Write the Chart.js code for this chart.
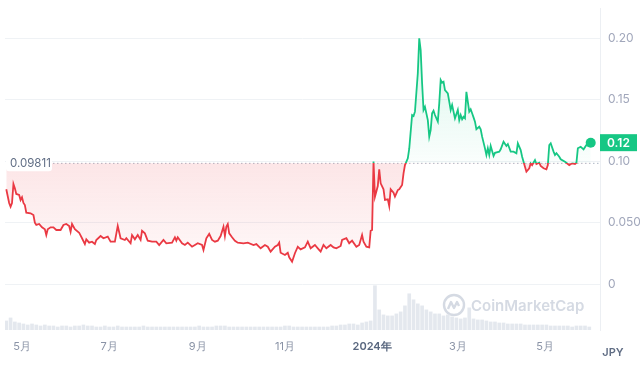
<!DOCTYPE html>
<html>
<head>
<meta charset="utf-8">
<script src="https://cdn.jsdelivr.net/npm/chart.js@4/dist/chart.umd.min.js"></script>
<style>
  html, body { margin:0; padding:0; background:#fff; }
  canvas { display:block; }
</style>
</head>
<body>
<canvas id="priceChart" width="640" height="366"></canvas>
<script>
// ----- data (days counted from 2023-05-01) -----
const monthTicks = [0, 61, 123, 184, 245, 305, 366];
const monthLabels = ['5月', '7月', '9月', '11月', '2024年', '3月', '5月'];
const priceTicks = [0, 0.05, 0.10, 0.15, 0.20];
const priceTickLabels = ['0', '0.050', '0.10', '0.15', '0.20'];
const baselinePrice = 0.09811;
const lastPriceLabel = '0.12';
const currency = 'JPY';

const priceDays = [
  -11, -9, -8, -7, -6, -5, -4, -2, -1, 0, 1, 2, 3, 6, 8, 9, 10, 12, 14, 16,
  17, 18, 20, 22, 24, 27, 29, 31, 33, 34, 35, 37, 40, 42, 44, 45, 47, 49, 51, 52,
  55, 57, 60, 62, 65, 67, 69, 72, 73, 76, 77, 79, 81, 83, 84, 86, 88, 91, 94, 96,
  99, 101, 105, 107, 108, 109, 112, 114, 116, 119, 121, 123, 126, 127, 129, 131, 133, 135, 137, 139,
  141, 142, 143, 144, 145, 147, 149, 151, 155, 158, 162, 164, 167, 170, 172, 174, 177, 179, 180, 181,
  184, 186, 187, 189, 191, 193, 195, 198, 200, 202, 205, 207, 209, 211, 213, 216, 218, 220, 223, 224,
  227, 229, 231, 234, 236, 238, 239, 241, 243, 244, 245, 246, 247, 249, 250, 251, 253, 254, 256, 257,
  258, 260, 261, 263, 264, 266, 267, 268, 270, 271, 273, 274, 275, 277, 278, 279, 280, 281, 282, 284,
  285, 286, 287, 288, 289, 291, 292, 293, 294, 295, 296, 298, 299, 300, 301, 302, 303, 305, 306, 307,
  308, 309, 310, 311, 313, 314, 315, 316, 317, 318, 320, 321, 322, 324, 325, 326, 327, 328, 330, 331,
  334, 335, 337, 339, 340, 342, 344, 346, 347, 349, 350, 352, 353, 355, 356, 357, 359, 360, 362, 363,
  365, 367, 368, 369, 370, 372, 373, 374, 376, 377, 380, 382, 383, 385, 387, 388, 389, 391, 393, 395,
  398
];
const prices = [
  0.0770, 0.0659, 0.0628, 0.0659, 0.0813, 0.0778, 0.0732, 0.0724, 0.0683, 0.0705, 0.0659, 0.0642, 0.0580, 0.0575, 0.0561, 0.0498, 0.0480, 0.0488, 0.0461, 0.0445,
  0.0398, 0.0445, 0.0461, 0.0461, 0.0439, 0.0439, 0.0480, 0.0488, 0.0472, 0.0425, 0.0488, 0.0445, 0.0417, 0.0372, 0.0325, 0.0363, 0.0336, 0.0344, 0.0325, 0.0358,
  0.0390, 0.0372, 0.0385, 0.0344, 0.0344, 0.0472, 0.0372, 0.0358, 0.0372, 0.0331, 0.0398, 0.0363, 0.0398, 0.0358, 0.0433, 0.0412, 0.0352, 0.0344, 0.0344, 0.0317,
  0.0358, 0.0331, 0.0336, 0.0380, 0.0352, 0.0380, 0.0331, 0.0317, 0.0336, 0.0303, 0.0317, 0.0331, 0.0317, 0.0276, 0.0372, 0.0407, 0.0358, 0.0344, 0.0352, 0.0390,
  0.0466, 0.0390, 0.0466, 0.0488, 0.0412, 0.0380, 0.0352, 0.0336, 0.0331, 0.0336, 0.0317, 0.0325, 0.0290, 0.0317, 0.0303, 0.0263, 0.0303, 0.0317, 0.0336, 0.0254,
  0.0236, 0.0254, 0.0217, 0.0181, 0.0250, 0.0303, 0.0282, 0.0298, 0.0344, 0.0290, 0.0317, 0.0290, 0.0263, 0.0317, 0.0290, 0.0317, 0.0298, 0.0290, 0.0309, 0.0358,
  0.0372, 0.0331, 0.0352, 0.0303, 0.0317, 0.0398, 0.0344, 0.0303, 0.0298, 0.0433, 0.0439, 0.0995, 0.0710, 0.0797, 0.0933, 0.0819, 0.0770, 0.0683, 0.0689, 0.0634,
  0.0770, 0.0742, 0.0710, 0.0764, 0.0770, 0.0805, 0.0900, 0.0967, 0.1022, 0.1100, 0.1374, 0.1366, 0.1401, 0.1713, 0.1998, 0.1902, 0.1632, 0.1415, 0.1441, 0.1333,
  0.1198, 0.1252, 0.1388, 0.1409, 0.1374, 0.1320, 0.1469, 0.1659, 0.1637, 0.1645, 0.1577, 0.1550, 0.1482, 0.1415, 0.1455, 0.1401, 0.1347, 0.1415, 0.1333, 0.1374,
  0.1339, 0.1360, 0.1347, 0.1563, 0.1401, 0.1420, 0.1388, 0.1355, 0.1320, 0.1258, 0.1279, 0.1258, 0.1198, 0.1103, 0.1049, 0.1103, 0.1049, 0.1122, 0.1041, 0.1067,
  0.1076, 0.1095, 0.1157, 0.1122, 0.1138, 0.1076, 0.1076, 0.1063, 0.1144, 0.1089, 0.1035, 0.0954, 0.0913, 0.0941, 0.0981, 0.0967, 0.1008, 0.0976, 0.0986, 0.0959,
  0.0941, 0.0933, 0.0967, 0.1130, 0.1144, 0.1076, 0.1049, 0.1063, 0.1035, 0.1014, 0.0994, 0.0976, 0.0967, 0.0981, 0.0976, 0.0986, 0.1103, 0.1116, 0.1095, 0.1130,
  0.1149
];

// volume, one bar every 3 days starting 2023-04-20 (relative units)
const volumeStartDay = -11;
const volumeStep = 3;
const volumes = [
  9, 12, 8, 7, 6, 5, 6, 5, 4, 5,
  4, 4, 3, 4, 4, 3, 4, 4, 5, 4,
  4, 3, 3, 4, 3, 3, 4, 3, 3, 3,
  3, 3, 4, 3, 3, 3, 3, 3, 3, 3,
  3, 3, 3, 3, 3, 4, 3, 3, 3, 4,
  4, 4, 3, 3, 3, 3, 3, 3, 3, 3,
  3, 3, 3, 3, 3, 4, 4, 3, 3, 3,
  3, 3, 3, 3, 3, 3, 4, 4, 5, 5,
  6, 6, 5, 7, 8, 9, 44, 20, 15, 14,
  14, 16, 18, 24, 36, 30, 26, 24, 20, 18,
  16, 16, 14, 15, 13, 12, 11, 12, 22, 11,
  10, 10, 9, 8, 8, 7, 7, 6, 6, 6,
  6, 5, 5, 5, 5, 5, 5, 4, 4, 4,
  4, 4, 3, 4, 4, 4, 3
];

const GREEN = '#16c784';
const RED = '#ea3943';

// ----- gradients -----
function lineGradient(chart){
  const {ctx, chartArea, scales} = chart;
  if(!chartArea) return RED;
  const yb = scales.y.getPixelForValue(baselinePrice);
  const g = ctx.createLinearGradient(0, chartArea.top, 0, chartArea.bottom);
  const stop = (yb - chartArea.top) / (chartArea.bottom - chartArea.top);
  g.addColorStop(0, GREEN);
  g.addColorStop(stop, GREEN);
  g.addColorStop(stop, RED);
  g.addColorStop(1, RED);
  return g;
}

function areaGradient(chart){
  const {ctx, chartArea, scales} = chart;
  if(!chartArea) return 'rgba(234,57,67,0.08)';
  const yb = scales.y.getPixelForValue(baselinePrice);
  const y0 = scales.y.getPixelForValue(0);
  const g = ctx.createLinearGradient(0, chartArea.top, 0, y0);
  const stop = (yb - chartArea.top) / (y0 - chartArea.top);
  g.addColorStop(0, 'rgba(22,199,132,0.20)');
  g.addColorStop(stop, 'rgba(22,199,132,0.02)');
  g.addColorStop(stop, 'rgba(234,57,67,0.13)');
  g.addColorStop(1, 'rgba(234,57,67,0.01)');
  return g;
}

// ----- extra drawing: watermark, baseline, price labels -----
const overlayPlugin = {
  id: 'overlay',
  beforeDatasetsDraw(chart){
    const {ctx, chartArea, scales} = chart;
    // watermark
    const cx = chartArea.right - 146, cy = chartArea.bottom - 25;
    ctx.save();
    ctx.strokeStyle = '#d5dae3';
    ctx.lineWidth = 2.4;
    ctx.beginPath();
    ctx.arc(cx, cy, 10, 0, Math.PI * 2);
    ctx.stroke();
    ctx.lineJoin = 'round';
    ctx.beginPath();
    ctx.moveTo(cx - 6, cy + 4);
    ctx.lineTo(cx - 3, cy - 3);
    ctx.lineTo(cx, cy + 3);
    ctx.lineTo(cx + 3, cy - 3);
    ctx.lineTo(cx + 5, cy + 1);
    ctx.stroke();
    ctx.fillStyle = '#d5dae3';
    ctx.font = '600 15px Inter';
    ctx.textBaseline = 'middle';
    ctx.textAlign = 'left';
    ctx.fillText('CoinMarketCap', cx + 17, cy + 1);

    // baseline dotted line
    const yb = scales.y.getPixelForValue(baselinePrice);
    ctx.strokeStyle = '#aeb6c5';
    ctx.lineWidth = 1;
    ctx.setLineDash([1.5, 2.5]);
    ctx.beginPath();
    ctx.moveTo(chartArea.left + 48, yb);
    ctx.lineTo(chartArea.right, yb);
    ctx.stroke();
    ctx.restore();
  },
  afterDatasetsDraw(chart){
    const {ctx, chartArea, scales} = chart;
    const yb = scales.y.getPixelForValue(baselinePrice);
    ctx.save();
    // baseline label
    ctx.fillStyle = '#ffffff';
    ctx.beginPath();
    ctx.roundRect(chartArea.left + 1, yb - 8, 46, 16, 3);
    ctx.fill();
    ctx.fillStyle = '#616e85';
    ctx.font = '11.5px Inter';
    ctx.textBaseline = 'middle';
    ctx.textAlign = 'left';
    ctx.fillText(baselinePrice.toString(), chartArea.left + 5, yb);

    // last price label
    const yl = scales.y.getPixelForValue(prices[prices.length - 1]);
    ctx.fillStyle = GREEN;
    ctx.fillRect(chartArea.right, yl - 8.5, 37, 17);
    ctx.fillStyle = '#ffffff';
    ctx.font = '600 12px Inter';
    ctx.fillText(lastPriceLabel, chartArea.right + 7, yl + 0.5);

    // currency
    ctx.fillStyle = '#616e85';
    ctx.font = '600 11px Inter';
    ctx.textAlign = 'center';
    ctx.fillText(currency, chartArea.right + 13, chartArea.bottom + 23);
    ctx.restore();
  }
};

// ----- chart -----
const lastIndex = prices.length - 1;
const ctx = document.getElementById('priceChart');
new Chart(ctx, {
  type: 'line',
  data: {
    datasets: [
      {
        type: 'line',
        data: priceDays.map((d, i) => ({x: d, y: prices[i]})),
        yAxisID: 'y',
        borderColor: c => lineGradient(c.chart),
        backgroundColor: c => areaGradient(c.chart),
        borderWidth: 1.8,
        tension: 0,
        fill: {target: {value: baselinePrice}},
        pointRadius: c => c.dataIndex === lastIndex ? 5 : 0,
        pointBackgroundColor: GREEN,
        pointBorderWidth: 0,
        pointHoverRadius: 0,
        order: 1
      },
      {
        type: 'bar',
        data: volumes.map((v, i) => ({x: volumeStartDay + i * volumeStep, y: v})),
        yAxisID: 'y2',
        backgroundColor: '#e4e8ee',
        barThickness: 3,
        order: 2
      }
    ]
  },
  options: {
    responsive: false,
    animation: false,
    layout: { padding: { left: 3, top: 8, right: 0, bottom: 0 } },
    plugins: { legend: { display: false }, tooltip: { enabled: false } },
    scales: {
      x: {
        type: 'linear',
        min: -11.9,
        max: 404.5,
        offset: false,
        grid: { display: false, offset: false },
        border: { display: false },
        afterBuildTicks: s => { s.ticks = monthTicks.map(v => ({value: v})); },
        afterFit: s => { s.height = 36; },
        ticks: {
          autoSkip: false,
          maxRotation: 0,
          padding: 2,
          callback: v => monthLabels[monthTicks.indexOf(v)],
          color: c => c.tick && c.tick.value === 245 ? '#58667e' : '#8a93a6',
          font: c => ({ family: 'Inter', size: 11, weight: c.tick && c.tick.value === 245 ? '600' : '400' })
        }
      },
      y: {
        position: 'right',
        min: -0.0374,
        max: 0.2244,
        afterBuildTicks: s => { s.ticks = priceTicks.map(v => ({value: v})); },
        afterFit: s => { s.width = 40; s.paddingTop = 0; s.paddingBottom = 0; },
        grid: { color: '#eff2f5', drawTicks: false },
        border: { display: true, color: '#eceff3' },
        ticks: {
          padding: 8,
          color: '#a1a7bb',
          font: { family: 'Inter', size: 12 },
          callback: v => priceTickLabels[priceTicks.indexOf(v)]
        }
      },
      y2: {
        display: false,
        min: 0,
        max: 320
      }
    }
  },
  plugins: [overlayPlugin]
});
</script>
</body>
</html>
